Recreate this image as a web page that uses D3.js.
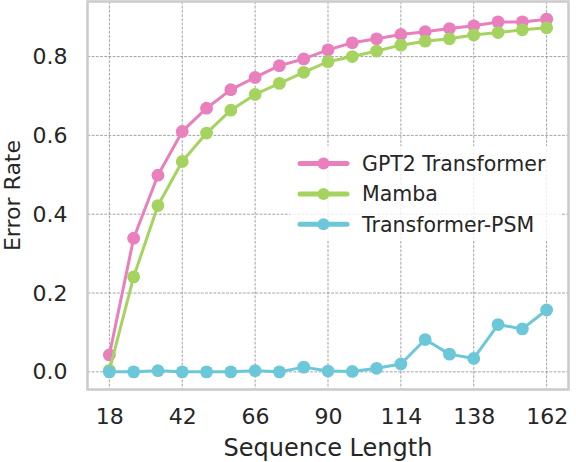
<!DOCTYPE html>
<html>
<head>
<meta charset="utf-8">
<script src="https://cdn.jsdelivr.net/npm/d3@7"></script>
<style>
  body { margin: 0; background: #fff; }
  svg { display: block; font-family: "DejaVu Sans", sans-serif; }
</style>
</head>
<body>
<div id="chart"></div>
<script>
// Sequence lengths on the x axis
const seqLengths = [18, 26, 34, 42, 50, 58, 66, 74, 82, 90, 98, 106, 114, 122, 130, 138, 146, 154, 162];

// error rates
const gpt2Errors = [0.043, 0.339, 0.499, 0.610, 0.669, 0.716, 0.747, 0.777, 0.794, 0.817, 0.835, 0.845, 0.856, 0.863, 0.871, 0.878, 0.888, 0.888, 0.895];
const mambaErrors = [0.004, 0.241, 0.422, 0.534, 0.606, 0.664, 0.704, 0.732, 0.760, 0.787, 0.800, 0.814, 0.829, 0.839, 0.845, 0.855, 0.861, 0.868, 0.873];
const psmErrors = [0.0, 0.0, 0.003, 0.0, 0.0, 0.0, 0.003, 0.0, 0.012, 0.002, 0.001, 0.009, 0.020, 0.082, 0.045, 0.034, 0.120, 0.109, 0.157];

const seriesNames = ["GPT2 Transformer", "Mamba", "Transformer-PSM"];
const seriesColors = ["#e97fbd", "#a5d35f", "#6cc8d8"];

const xTicks = [18, 42, 66, 90, 114, 138, 162];
const yTicks = [0.0, 0.2, 0.4, 0.6, 0.8];

const width = 576;
const height = 462;
const plot = { left: 87.5, right: 568.5, top: 1.5, bottom: 389.5 };

const series = [gpt2Errors, mambaErrors, psmErrors].map((vals, i) => ({
  name: seriesNames[i],
  color: seriesColors[i],
  points: vals.map((v, j) => ({ x: seqLengths[j], y: v }))
}));

// matplotlib style 5% margins
const xMin = d3.min(seqLengths), xMax = d3.max(seqLengths);
const xPad = (xMax - xMin) * 0.05;
const allY = [...gpt2Errors, ...mambaErrors, ...psmErrors];
const yMin = d3.min(allY), yMax = d3.max(allY);
const yPad = (yMax - yMin) * 0.05;

const x = d3.scaleLinear()
  .domain([xMin - xPad, xMax + xPad])
  .range([plot.left, plot.right]);
const y = d3.scaleLinear()
  .domain([yMin - yPad, yMax + yPad])
  .range([plot.bottom, plot.top]);

const svg = d3.select("#chart").append("svg")
  .attr("width", width)
  .attr("height", height);

// grid
const grid = svg.append("g")
  .attr("stroke", "#8c8c8c")
  .attr("stroke-width", 0.8)
  .attr("stroke-dasharray", "2.8,1.4");
grid.selectAll(".vgrid").data(xTicks).join("line")
  .attr("class", "vgrid")
  .attr("x1", d => x(d)).attr("x2", d => x(d))
  .attr("y1", plot.top).attr("y2", plot.bottom);
grid.selectAll(".hgrid").data(yTicks).join("line")
  .attr("class", "hgrid")
  .attr("x1", plot.left).attr("x2", plot.right)
  .attr("y1", d => y(d)).attr("y2", d => y(d));

// axes (ticks hidden, labels only)
const xAxis = svg.append("g")
  .attr("transform", `translate(0,${plot.bottom})`)
  .call(d3.axisBottom(x).tickValues(xTicks).tickSize(0).tickPadding(15).tickFormat(d3.format("d")));
const yAxis = svg.append("g")
  .attr("transform", `translate(${plot.left},0)`)
  .call(d3.axisLeft(y).tickValues(yTicks).tickSize(0).tickPadding(20).tickFormat(d3.format(".1f")));
[xAxis, yAxis].forEach(g => {
  g.select(".domain").remove();
  g.selectAll("text")
    .attr("fill", "#262626")
    .style("font-size", "22px")
    .style("font-family", "DejaVu Sans");
});
xAxis.selectAll("text").attr("dy", "0.71em").attr("y", 19);

// lines + markers
const line = d3.line().x(d => x(d.x)).y(d => y(d.y));
const gSeries = svg.append("g");
series.forEach(s => {
  const g = gSeries.append("g");
  g.append("path")
    .attr("d", line(s.points))
    .attr("fill", "none")
    .attr("stroke", s.color)
    .attr("stroke-width", 3)
    .attr("stroke-linejoin", "round");
  g.selectAll("circle").data(s.points).join("circle")
    .attr("cx", d => x(d.x))
    .attr("cy", d => y(d.y))
    .attr("r", 6.4)
    .attr("fill", s.color);
});

// frame
svg.append("rect")
  .attr("x", plot.left).attr("y", plot.top)
  .attr("width", plot.right - plot.left)
  .attr("height", plot.bottom - plot.top)
  .attr("fill", "none")
  .attr("stroke", "#cccccc")
  .attr("stroke-width", 2.6);

// legend
const legend = svg.append("g").attr("transform", "translate(290,146)");
legend.append("rect")
  .attr("width", 272).attr("height", 94)
  .attr("rx", 4)
  .attr("fill", "#fff")
  .attr("fill-opacity", 0.8);
series.forEach((s, i) => {
  const ly = 17.5 + i * 30.4;
  const item = legend.append("g").attr("transform", `translate(0,${ly})`);
  item.append("line")
    .attr("x1", 10).attr("x2", 57)
    .attr("stroke", s.color)
    .attr("stroke-width", 5)
    .attr("stroke-linecap", "round");
  item.append("circle").attr("cx", 33.5).attr("r", 6).attr("fill", s.color);
  item.append("text")
    .attr("x", 72).attr("dy", "0.36em")
    .attr("fill", "#262626")
    .style("font-size", "20.5px")
    .text(s.name);
});

// axis titles
svg.append("text")
  .attr("x", (plot.left + plot.right) / 2)
  .attr("y", 456)
  .attr("text-anchor", "middle")
  .attr("fill", "#262626")
  .style("font-size", "24px")
  .text("Sequence Length");
svg.append("text")
  .attr("transform", `translate(19.5,${(plot.top + plot.bottom) / 2}) rotate(-90)`)
  .attr("text-anchor", "middle")
  .attr("fill", "#262626")
  .style("font-size", "22px")
  .text("Error Rate");
</script>
</body>
</html>
